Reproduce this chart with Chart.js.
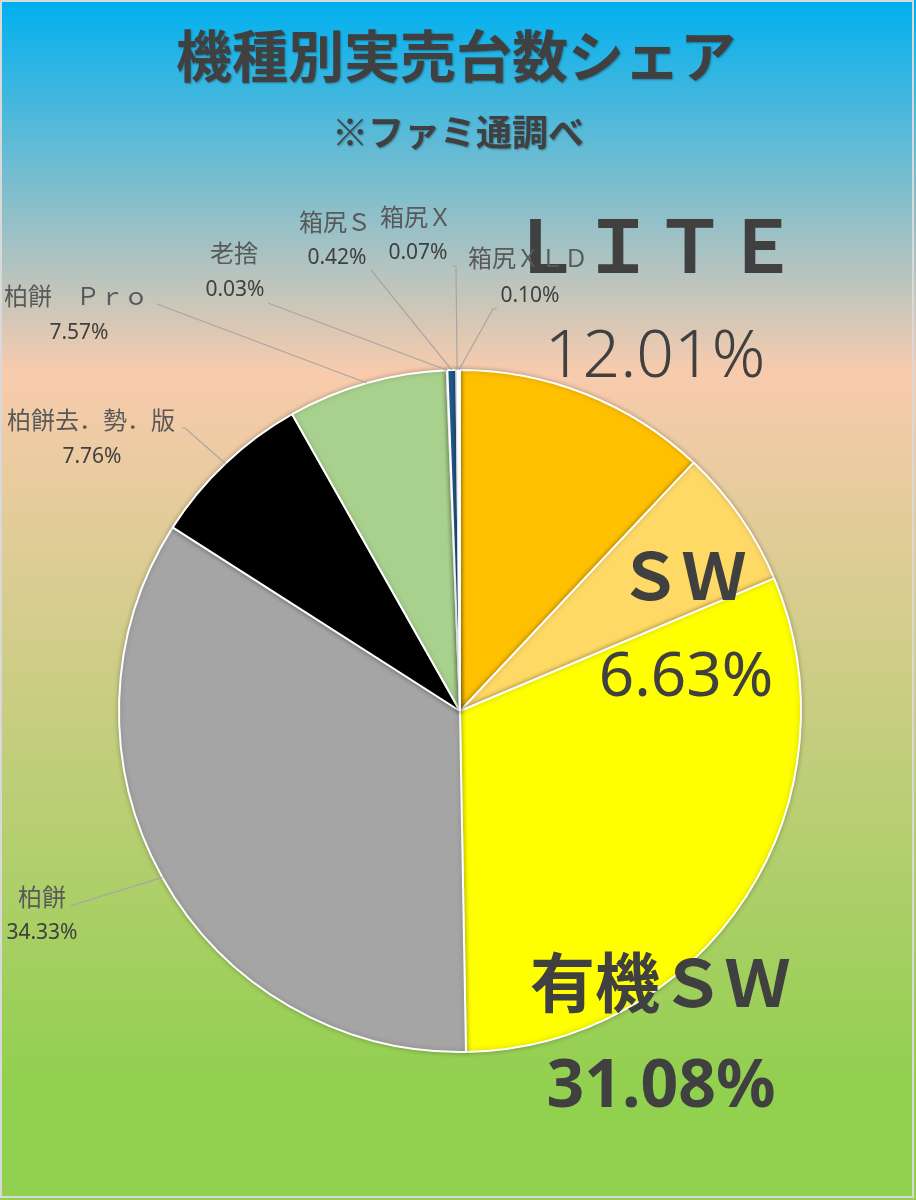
<!DOCTYPE html>
<html>
<head>
<meta charset="utf-8">
<script src="https://cdn.jsdelivr.net/npm/chart.js@4.4.1/dist/chart.umd.min.js"></script>
<style>
  html, body { margin: 0; padding: 0; background: #fff; }
  canvas { display: block; }
</style>
</head>
<body>
<canvas id="chart" width="916" height="1200"></canvas>
<script>
// chart data
const titleText = '機種別実売台数シェア';
const subtitleText = '※ファミ通調べ';
const models = ['ＬＩＴＥ', 'ＳＷ', '有機ＳＷ', '柏餅', '柏餅去．勢．版', '柏餅　Ｐｒｏ', '老捨', '箱尻Ｓ', '箱尻Ｘ', '箱尻ＸＬＤ'];
const shares = [12.01, 6.63, 31.08, 34.33, 7.76, 7.57, 0.03, 0.42, 0.07, 0.10];
const sliceColors = ['#FFC000', '#FFD966', '#FFFF00', '#A5A5A5', '#000000', '#A9D18E', '#ED7D31', '#255E91', '#F2F2F2', '#F2F2F2'];

const CJK = '"Noto Sans CJK JP", sans-serif';
const NUM = '"Noto Sans", "Noto Sans CJK JP", sans-serif';

// label placement, offsets from the pie centre (Excel-style manual positions)
// name: centre of first line, pct: centre of second line, lead: leader line start (+ optional elbow)
const labelLayout = [
  { name: [194, -465], pct: [195, -353], nameFont: '700 72px ' + CJK, pctFont: '300 66px ' + NUM },
  { name: [222, -135], pct: [226, -33], nameFont: '700 64px ' + CJK, pctFont: '400 62px ' + NUM },
  { name: [200, 271], pct: [201, 377], nameFont: '700 65px ' + CJK, pctFont: '700 66px ' + NUM },
  { name: [-418, 186], pct: [-418, 222], lead: [[-390, 195]] },
  { name: [-369, -291], pct: [-368, -254], lead: [[-278, -283], [-275, -283]] },
  { name: [-384, -415], pct: [-381, -378], lead: [[-303, -407]] },
  { name: [-226, -458], pct: [-225, -421], lead: [[-192, -408]] },
  { name: [-125, -489], pct: [-123, -453], lead: [[-89, -441]] },
  { name: [-44, -494], pct: [-42, -458], lead: [[-8, -445], [-4, -445]] },
  { name: [68, -453], pct: [70, -415], lead: [[37, -402], [33, -402]] }
];

const backgroundPlugin = {
  id: 'background',
  beforeDraw(chart) {
    const { ctx, width, height } = chart;
    const g = ctx.createLinearGradient(0, 0, 0, height);
    g.addColorStop(0, '#00B0F0');
    g.addColorStop(0.31, '#F8CBAD');
    g.addColorStop(0.9, '#92D050');
    g.addColorStop(1, '#92D050');
    ctx.save();
    ctx.fillStyle = g;
    ctx.fillRect(0, 0, width, height);
    ctx.strokeStyle = '#D9D9D9';
    ctx.lineWidth = 2;
    ctx.strokeRect(1, 1, width - 4, height - 4);
    ctx.restore();
  }
};

const shadowPlugin = {
  id: 'sliceShadow',
  beforeDatasetDraw(chart) {
    const ctx = chart.ctx;
    ctx.save();
    ctx.shadowColor = 'rgba(0,0,0,0.25)';
    ctx.shadowBlur = 5;
  },
  afterDatasetDraw(chart) {
    chart.ctx.restore();
  }
};

const labelPlugin = {
  id: 'excelLabels',
  afterDraw(chart) {
    const { ctx } = chart;
    const arcs = chart.getDatasetMeta(0).data;
    const cx = arcs[0].x, cy = arcs[0].y;
    ctx.save();

    // titles
    ctx.textAlign = 'center';
    ctx.textBaseline = 'middle';
    ctx.shadowColor = 'rgba(0,0,0,0.35)';
    ctx.shadowOffsetX = 1;
    ctx.shadowOffsetY = 1;
    ctx.shadowBlur = 2;
    ctx.fillStyle = '#404040';
    ctx.font = '700 56px ' + CJK;
    ctx.fillText(titleText, 456, 56);
    ctx.font = '700 36px ' + CJK;
    ctx.fillText(subtitleText, 458, 132);
    ctx.shadowColor = 'transparent';

    arcs.forEach((arc, i) => {
      const lay = labelLayout[i];
      const mid = (arc.startAngle + arc.endAngle) / 2;
      if (lay.lead) {
        const ex = cx + arc.outerRadius * Math.cos(mid);
        const ey = cy + arc.outerRadius * Math.sin(mid);
        ctx.beginPath();
        ctx.moveTo(cx + lay.lead[0][0], cy + lay.lead[0][1]);
        lay.lead.slice(1).forEach(p => ctx.lineTo(cx + p[0], cy + p[1]));
        ctx.lineTo(ex, ey);
        ctx.strokeStyle = '#A6A6A6';
        ctx.lineWidth = 1.2;
        ctx.stroke();
      }
      const big = !!lay.nameFont;
      ctx.fillStyle = big ? '#404040' : '#595959';
      ctx.font = lay.nameFont || ('400 24px ' + CJK);
      ctx.fillText(models[i], cx + lay.name[0], cy + lay.name[1]);
      ctx.fillStyle = '#404040';
      ctx.font = lay.pctFont || ('400 21px ' + NUM);
      ctx.fillText(shares[i].toFixed(2) + '%', cx + lay.pct[0], cy + lay.pct[1]);
    });
    ctx.restore();
  }
};

new Chart(document.getElementById('chart'), {
  type: 'pie',
  data: {
    labels: models,
    datasets: [{
      data: shares,
      backgroundColor: sliceColors,
      borderColor: '#FFFFFF',
      borderWidth: 2
    }]
  },
  options: {
    responsive: false,
    animation: false,
    devicePixelRatio: 1,
    layout: { padding: { left: 118, right: 114, top: 369, bottom: 147 } },
    plugins: {
      legend: { display: false },
      tooltip: { enabled: false },
      title: { display: false }
    }
  },
  plugins: [backgroundPlugin, shadowPlugin, labelPlugin]
});
</script>
</body>
</html>
